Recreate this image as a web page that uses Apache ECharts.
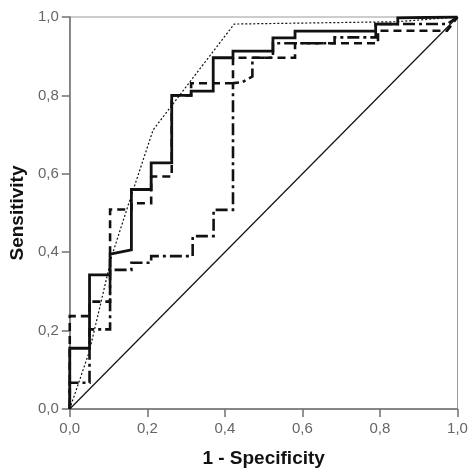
<!DOCTYPE html>
<html>
<head>
<meta charset="utf-8">
<script src="https://cdn.jsdelivr.net/npm/echarts@6/dist/echarts.min.js"></script>
<style>
html,body{margin:0;padding:0;background:#fff;}
#chart{width:474px;height:474px;}
</style>
</head>
<body>
<div id="chart"></div>
<script>
// Tick values for both axes
var xTicks = [0, 0.2, 0.4, 0.6, 0.8, 1.0];
var yTicks = [0, 0.2, 0.4, 0.6, 0.8, 1.0];

// ROC curve vertices [1 - specificity, sensitivity]
var solidCurve = [
  [0,0],[0,0.155],[0.051,0.155],[0.051,0.342],[0.104,0.342],[0.104,0.395],
  [0.159,0.406],[0.159,0.56],[0.21,0.56],[0.21,0.628],[0.263,0.628],[0.263,0.80],
  [0.313,0.80],[0.313,0.811],[0.37,0.811],[0.37,0.896],[0.421,0.896],[0.421,0.913],
  [0.524,0.913],[0.524,0.947],[0.581,0.947],[0.581,0.964],[0.789,0.964],[0.789,0.982],
  [0.846,0.982],[0.846,0.998],[1,1]
];
var dashedCurve = [
  [0,0],[0,0.237],[0.051,0.237],[0.051,0.274],[0.104,0.274],[0.104,0.509],
  [0.159,0.509],[0.159,0.525],[0.21,0.525],[0.21,0.593],[0.263,0.593],[0.263,0.80],
  [0.313,0.80],[0.313,0.831],[0.421,0.831],[0.421,0.896],[0.581,0.896],[0.581,0.933],
  [0.795,0.933],[0.795,0.965],[0.973,0.965],[1,1]
];
var dashDotCurve = [
  [0,0],[0,0.067],[0.051,0.067],[0.051,0.203],[0.104,0.203],[0.104,0.355],
  [0.159,0.355],[0.159,0.373],[0.21,0.373],[0.21,0.39],[0.317,0.39],[0.317,0.441],
  [0.371,0.441],[0.371,0.508],[0.421,0.508],[0.421,0.831],[0.445,0.834],[0.471,0.848],
  [0.471,0.896],[0.524,0.896],[0.524,0.933],[0.683,0.933],[0.683,0.948],[0.789,0.948],
  [0.789,0.982],[0.973,0.982],[1,1]
];
var dottedCurve = [
  [0,0],[0.05,0.145],[0.08,0.27],[0.108,0.389],[0.155,0.533],[0.215,0.712],
  [0.424,0.982],[0.846,0.988],[1,1]
];
var referenceLine = [[0,0],[1,1]];

var fmt = function (v) { return v.toFixed(1).replace('.', ','); };
var chart = echarts.init(document.getElementById('chart'), null, {renderer: 'canvas'});
var font = "'Liberation Sans', Arial, sans-serif";

function mkSeries(data, width, type, z) {
  return {
    type: 'line', data: data, symbol: 'none', silent: true, z: z,
    lineStyle: {color: '#111', width: width, type: type, cap: 'butt', join: 'miter'}
  };
}

chart.setOption({
  animation: false,
  backgroundColor: '#fff',
  grid: {left: 66, right: 16.5, top: 17, bottom: 65, show: true, borderColor: '#9a9a9a', borderWidth: 1},
  xAxis: {
    type: 'value', min: xTicks[0], max: xTicks[xTicks.length - 1], interval: 0.2,
    name: '1 - Specificity', nameLocation: 'middle', nameGap: 40,
    nameTextStyle: {fontFamily: font, fontSize: 19, fontWeight: 'bold', color: '#111'},
    axisLine: {show: true, lineStyle: {color: '#707070', width: 1.5}},
    axisTick: {show: true, inside: false, length: 8, lineStyle: {color: '#707070', width: 1.5}},
    axisLabel: {formatter: fmt, fontFamily: font, fontSize: 15, color: '#666', margin: 12},
    splitLine: {show: false}
  },
  yAxis: {
    type: 'value', min: yTicks[0], max: yTicks[yTicks.length - 1], interval: 0.2,
    name: 'Sensitivity', nameLocation: 'middle', nameGap: 42, nameRotate: 90,
    nameTextStyle: {fontFamily: font, fontSize: 19, fontWeight: 'bold', color: '#111'},
    axisLine: {show: true, lineStyle: {color: '#707070', width: 1.5}},
    axisTick: {show: true, inside: false, length: 8, lineStyle: {color: '#707070', width: 1.5}},
    axisLabel: {formatter: fmt, fontFamily: font, fontSize: 15, color: '#666', margin: 11},
    splitLine: {show: false}
  },
  series: [
    mkSeries(referenceLine, 1.2, 'solid', 1),
    mkSeries(dottedCurve, 1.2, [2, 2], 2),
    mkSeries(dashDotCurve, 2.6, [12, 4, 3, 4], 3),
    mkSeries(dashedCurve, 2.6, [8, 5], 4),
    mkSeries(solidCurve, 2.8, 'solid', 5)
  ]
});
</script>
</body>
</html>
